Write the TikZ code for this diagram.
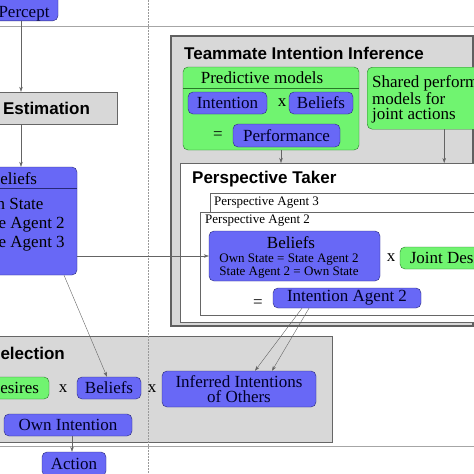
\documentclass[tikz,border=0pt]{standalone}
\usepackage{fontspec}
\setmainfont{Liberation Serif}
\setsansfont{Liberation Sans}
\usetikzlibrary{positioning, arrows.meta}

\definecolor{boxblue}{RGB}{104,104,246}
\definecolor{edgeblue}{RGB}{40,40,120}
\definecolor{boxgreen}{RGB}{112,244,112}
\definecolor{edgegreen}{RGB}{40,120,40}
\definecolor{panelgray}{RGB}{216,216,216}
\definecolor{linegray}{RGB}{100,100,100}

\newcommand{\mainfnt}{\fontsize{17}{19}\selectfont}
\newcommand{\tightfnt}{\fontsize{17}{15}\selectfont}
\newcommand{\smallfnt}{\fontsize{13}{13}\selectfont}
\newcommand{\titlefnt}{\fontsize{17}{17}\selectfont\sffamily\bfseries}

\begin{document}
\begin{tikzpicture}[
  x=1pt, y=-1pt,
  bluebox/.style={draw=edgeblue, fill=boxblue, rounded corners=5pt, inner sep=0pt, font=\mainfnt, text=black!85!blue},
  greenbox/.style={draw=edgegreen, fill=boxgreen, rounded corners=5pt, inner sep=0pt, font=\mainfnt},
  graypanel/.style={draw=gray!80!black, fill=panelgray, inner sep=0pt},
  whitepanel/.style={draw=gray!80!black, fill=white, inner sep=0pt},
  heading/.style={font=\titlefnt, anchor=west, inner sep=0pt},
  sign/.style={font=\mainfnt, inner sep=0pt},
  arrow/.style={-{Stealth[length=5pt, width=3.5pt]}, draw=linegray, thin}
]
  \useasboundingbox (0,0) rectangle (474,474);
  \clip (0,0) rectangle (474,474);

  % Lanes
  \draw[gray!70, thin] (0,26) -- (474,26);
  \draw[gray!70, thin] (0,446) -- (474,446);

  % Teammate intention inference (right side)
  \node[graypanel, draw=gray!75!black, line width=1.1pt, minimum width=302pt, minimum height=290pt] (tii) at (322,181) {};
  \node[heading] (tiititle) at (184,53) {Teammate Intention Inference};

  \node[greenbox, minimum width=176pt, minimum height=83pt] (pm) at (271,108.5) {};
  \draw[edgegreen] (pm.west |- 0,88) -- (pm.east |- 0,88);
  \node[font=\mainfnt, inner sep=0pt] (pmhead) at (262,78) {Predictive models};
  \node[bluebox, minimum width=79pt, minimum height=22pt] (pint) at (227.5,103) {Intention};
  \node[sign] (px) at (282,103) {x};
  \node[bluebox, minimum width=64pt, minimum height=22pt] (pbel) at (321,103) {Beliefs};
  \node[sign] (peq) at (218,136) {=};
  \node[bluebox, minimum width=107pt, minimum height=23pt] (pperf) at (286.5,135.5) {Performance};

  \node[greenbox, minimum width=154pt, minimum height=62pt, anchor=north west] (spm) at (367,67) {};
  \node[font=\tightfnt, anchor=north west, align=left, inner sep=0pt] (spmtext) at (372,75.5) {Shared performance\\models for\\joint actions};

  % Perspective taker
  \node[whitepanel, minimum width=320pt, minimum height=159pt, anchor=north west] (pt) at (180,163) {};
  \node[heading] (pttitle) at (192,179) {Perspective Taker};
  \node[whitepanel, minimum width=290pt, minimum height=110pt, anchor=north west] (pa3) at (210,193) {};
  \node[font=\smallfnt, anchor=west, inner sep=0pt] (pa3label) at (214,203) {Perspective Agent 3};
  \node[whitepanel, minimum width=300pt, minimum height=103pt, anchor=north west] (pa2) at (200,212) {};
  \node[font=\smallfnt, anchor=west, inner sep=0pt] (pa2label) at (205,221) {Perspective Agent 2};

  \node[bluebox, minimum width=171pt, minimum height=50pt] (bel2) at (294.5,256) {};
  \node[font=\mainfnt, inner sep=0pt] (bel2head) at (291,243) {Beliefs};
  \node[font=\smallfnt, align=center, inner sep=0pt] (bel2items) at (289,266.5) {Own State = State Agent 2\\State Agent 2 = Own State};
  \node[sign] (bx) at (391,258) {x};
  \node[greenbox, minimum width=108pt, minimum height=22pt] (jd) at (454,258) {Joint Desires};
  \node[sign] (beq) at (258,304) {=};
  \node[bluebox, minimum width=148pt, minimum height=20pt] (ia2) at (347,298) {Intention Agent 2};

  % Estimation (left side)
  \node[graypanel, minimum width=141pt, minimum height=32pt, font=\titlefnt] (est) at (46.5,108) {Estimation};

  % Action selection
  \node[graypanel, minimum width=392pt, minimum height=106pt, anchor=north east] (asel) at (332,336) {};
  \node[heading] (aseltitle) at (-11,353) {Selection};

  % Column divider
  \draw[gray!80, dash pattern=on 1.5pt off 1.5pt] (148,0) -- (148,474);

  \node[bluebox, minimum width=68pt, text height=22pt, text depth=1pt, inner ysep=2pt, anchor=south] (percept) at (24,21) {Percept};

  \node[bluebox, minimum width=128pt, minimum height=108pt] (bel0) at (13,221) {};
  \draw[edgeblue] (bel0.west |- 0,188) -- (bel0.east |- 0,188);
  \node[font=\mainfnt, inner sep=0pt] (bel0head) at (13,179) {Beliefs};
  \node[font=\mainfnt, anchor=west, align=left, inner sep=0pt] (bel0items) at (-28,225) {Own State\\State Agent 2\\State Agent 3};

  \node[greenbox, minimum width=71pt, minimum height=22pt] (des) at (13.5,388) {Desires};
  \node[sign] (ax1) at (63,389) {x};
  \node[bluebox, minimum width=64pt, minimum height=22pt] (abel) at (109,388) {Beliefs};
  \node[sign] (ax2) at (152,389) {x};
  \node[bluebox, minimum width=154pt, minimum height=36pt, align=center, font=\tightfnt] (iio) at (239,389) {Inferred Intentions\\of Others};
  \node[bluebox, minimum width=128pt, minimum height=22pt] (oi) at (68,425) {Own Intention};
  \node[bluebox, minimum width=64pt, minimum height=24pt] (act) at (74,464) {Action};

  % Flow arrows
  \draw[arrow] ([xshift=-3pt]percept.south) -- ([xshift=-25.5pt]est.north);
  \draw[arrow] ([xshift=-25.5pt]est.south) -- ([xshift=8pt]bel0.north);
  \draw[arrow] (bel0.east |- bel2.west) -- (bel2.west);
  \draw[arrow] ([xshift=51pt]bel0.south) -- ([xshift=-2pt]abel.north);
  \draw[arrow] ([xshift=10pt]pm.south) -- ([xshift=10pt]pm.south |- pt.north);
  \draw[arrow] (spm.south) -- (spm.south |- pt.north);
  \draw[arrow] ([xshift=-45pt]ia2.south) -- ([xshift=16pt]iio.north);
  \draw[arrow] ([xshift=-38pt]ia2.south) -- ([xshift=33pt]iio.north);
  \draw[arrow] ([xshift=4pt]oi.south) -- ([xshift=-2pt]act.north);
\end{tikzpicture}
\end{document}
